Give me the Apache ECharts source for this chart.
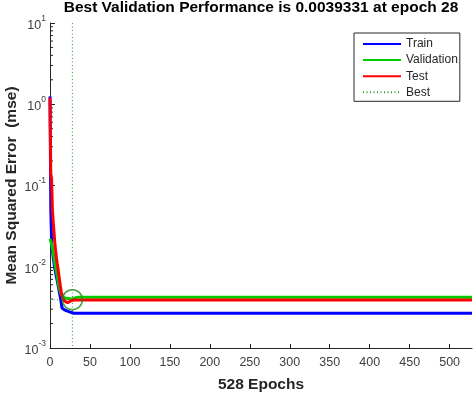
<!DOCTYPE html>
<html>
<head>
<meta charset="utf-8">
<script src="https://cdn.jsdelivr.net/npm/echarts@6/dist/echarts.min.js"></script>
<style>html,body{margin:0;padding:0;background:#fff;}#c{width:474px;height:396px;}</style>
</head>
<body>
<div id="c"></div>
<script>
const epochs = [0,1,2,3,4,5,6,7,8,9,10,11,12,13,14,15,16,17,18,19,20,22,24,26,28,30,32,34,528];
const train = [1.25,0.05,0.02,0.016,0.013,0.011,0.0095,0.0085,0.0075,0.0068,0.006,0.0053,0.0047,0.0042,0.0036,0.0031,0.00305,0.003,0.00295,0.0029,0.00288,0.00284,0.0028,0.00275,0.0027,0.00268,0.00268,0.00268,0.00268];
const validation = [0.022,0.021,0.019,0.017,0.015,0.013,0.011,0.0097,0.0087,0.0077,0.0067,0.0059,0.0053,0.0049,0.0046,0.0044,0.0043,0.0042,0.0042,0.0041,0.0041,0.0041,0.0040,0.00398,0.0039331,0.0041,0.0042,0.0042,0.0042];
const test = [1.2,0.14,0.12,0.05,0.036,0.027,0.02,0.016,0.013,0.011,0.0095,0.008,0.0068,0.0058,0.005,0.0044,0.0041,0.0039,0.0038,0.0037,0.0037,0.0036,0.0037,0.0038,0.0038,0.0039,0.0039,0.0039,0.0039];
const bestEpoch = 28;
const bestValue = 0.0039331;
const totalEpochs = 528;
const yMin = 0.001, yMax = 10;
const xTicks = [0,50,100,150,200,250,300,350,400,450,500];
const minorTickValues = [];
[0.001,0.01,0.1,1].forEach(function(d){ [2,3,4,5,6,7,8,9].forEach(function(m){ minorTickValues.push(+(d*m).toPrecision(3)); }); });

const pair = (ys) => epochs.map((e,i) => [e, ys[i]]);
const font = 'Liberation Sans, Arial, Helvetica, sans-serif';
const chart = echarts.init(document.getElementById('c'), null, {renderer:'canvas'});
chart.setOption({
  animation: false,
  backgroundColor: '#fff',
  title: {
    text: 'Best Validation Performance is ' + bestValue + ' at epoch ' + bestEpoch,
    left: 261, top: 0, padding: 0, textAlign: 'center',
    textStyle: {fontFamily: font, fontSize: 15.5, fontWeight: 'bold', color: '#000'}
  },
  legend: {
    data: ['Train','Validation','Test','Best'],
    orient: 'vertical', left: 354, top: 33,
    padding: [5,2,3,8], itemGap: 4.1, itemWidth: 38, itemHeight: 13,
    itemStyle: {opacity: 0},
    backgroundColor: '#fff', borderColor: '#262626', borderWidth: 1, borderRadius: 0,
    textStyle: {fontFamily: font, fontSize: 12, color: '#262626'}
  },
  grid: {left: 50, right: 2, top: 23, bottom: 48, containLabel: false, outerBoundsMode: 'none'},
  xAxis: {
    type: 'value', min: 0, max: totalEpochs, interval: 50,
    name: totalEpochs + ' Epochs', nameLocation: 'middle', nameGap: 29, nameMoveOverlap: false,
    nameTextStyle: {fontFamily: font, fontSize: 15.5, fontWeight: 'bold', color: '#262626'},
    axisLine: {lineStyle: {color: '#262626', width: 1}},
    axisTick: {inside: true, length: 4, lineStyle: {color: '#262626'}},
    axisLabel: {fontFamily: font, fontSize: 12.5, color: '#404040', margin: 8, showMaxLabel: false,
      formatter: function(v){ return xTicks.indexOf(v) >= 0 ? String(v) : ''; }},
    splitLine: {show: false}
  },
  yAxis: {
    type: 'log', logBase: 10, min: yMin, max: yMax,
    name: 'Mean Squared Error  (mse)', nameLocation: 'middle', nameGap: 30, nameMoveOverlap: false,
    nameTextStyle: {fontFamily: font, fontSize: 15.5, fontWeight: 'bold', color: '#262626'},
    axisLine: {show: true, lineStyle: {color: '#262626', width: 1}},
    axisTick: {inside: true, length: 5, lineStyle: {color: '#262626'}},
    axisLabel: {margin: 4,
      formatter: function(v){ const e = Math.round(Math.log10(v)); return '{b|10}{s|' + e + '}'; },
      rich: {
        b: {fontFamily: font, fontSize: 12.5, color: '#404040', lineHeight: 18, verticalAlign: 'bottom'},
        s: {fontFamily: font, fontSize: 8.5, color: '#404040', lineHeight: 18, verticalAlign: 'top'}
      }},
    splitLine: {show: false}
  },
  series: [
    {name: 'Train', type: 'line', data: pair(train), showSymbol: false, symbol: 'none', color: '#0000ff', lineStyle: {width: 3, color: '#0000ff'}, z: 3},
    {name: 'Validation', type: 'line', data: pair(validation), showSymbol: false, symbol: 'none', color: '#00cc00', lineStyle: {width: 3, color: '#00cc00'}, z: 4},
    {name: 'Test', type: 'line', data: pair(test), showSymbol: false, symbol: 'none', color: '#ff0000', lineStyle: {width: 3, color: '#ff0000'}, z: 5},
    {name: 'Best', type: 'line', data: [[bestEpoch, yMax], [bestEpoch, yMin]], showSymbol: false, symbol: 'none', color: '#339933', lineStyle: {width: 1, type: [1,2.5], color: '#339933'}, z: 2},
    {name: 'Best', type: 'line', data: [[0, bestValue], [bestEpoch, bestValue]], showSymbol: false, symbol: 'none', color: '#339933', lineStyle: {width: 1, type: [1,2.5], color: '#339933'}, z: 2},
    {name: 'BestCircle', type: 'scatter', data: [[bestEpoch, bestValue]], symbol: 'circle', symbolSize: 20,
      itemStyle: {color: 'rgba(0,0,0,0)', borderColor: '#1a8a1a', borderWidth: 1.5}, z: 6},
    {name: 'minor', type: 'custom', data: minorTickValues.map(v => [0, v]), silent: true, z: 1,
      renderItem: function(params, api){
        const p = api.coord([api.value(0), api.value(1)]);
        return {type: 'line', shape: {x1: p[0], y1: p[1], x2: p[0] + 3, y2: p[1]}, style: {stroke: '#262626', lineWidth: 1}};
      }}
  ]
});
</script>
</body>
</html>
